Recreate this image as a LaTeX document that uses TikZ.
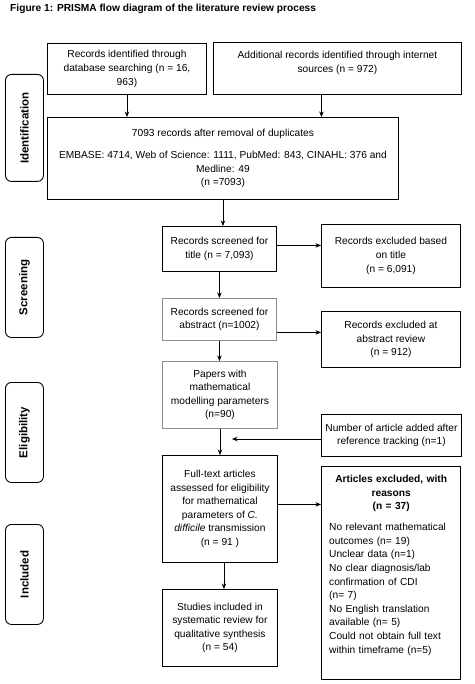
\documentclass[tikz,border=0pt]{standalone}
\usepackage{fontspec}
\setmainfont{Liberation Sans}
\usetikzlibrary{arrows.meta}
\begin{document}
\begin{tikzpicture}[x=1pt,y=-1pt,
  every node/.style={font=\fontsize{10.2}{13.6}\selectfont, inner sep=0pt},
  box/.style={draw=black, line width=0.9pt, align=center, anchor=north west},
  graybox/.style={box, draw=black!45},
  sidebox/.style={draw=black, line width=0.9pt, rounded corners=6pt, anchor=north west, minimum width=38pt},
  sidetext/.style={rotate=90, font=\fontsize{11.5}{13}\selectfont\bfseries},
  arr/.style={-{Stealth[length=5.5pt,width=4.5pt]}, line width=0.7pt}]
\useasboundingbox (0,0) rectangle (474,684);

\node[anchor=west, font=\fontsize{10.2}{12}\selectfont\bfseries] (title) at (10,9) {Figure 1: PRISMA flow diagram of the literature review process};

% side labels
\node[sidebox, minimum height=107pt] (s1) at (5,74) {};
\node[sidetext] (s1t) at (s1.center) {Identification};
\node[sidebox, minimum height=100pt] (s2) at (5,237) {};
\node[sidetext] (s2t) at (s2.center) {Screening};
\node[sidebox, minimum height=100pt] (s3) at (5,382) {};
\node[sidetext] (s3t) at (s3.center) {Eligibility};
\node[sidebox, minimum height=100pt] (s4) at (5,524) {};
\node[sidetext] (s4t) at (s4.center) {Included};

% boxes
\node[box, minimum width=159pt, minimum height=51pt] (A) at (47,43) {Records identified through\\ database searching (n = 16,\\ 963)};
\node[box, minimum width=248pt, minimum height=52pt] (B) at (213,42) {Additional records identified through internet\\ sources (n = 972)\\ \mbox{}};
\node[box, minimum width=351pt, minimum height=82pt] (C) at (47,117) {7093 records after removal of duplicates\\[8.4pt] EMBASE: 4714, Web of Science: 1111, PubMed: 843, CINAHL: 376 and\\ Medline: 49\\ (n =7093)};
\node[box, minimum width=114pt, minimum height=45pt] (D) at (162,226) {Records screened for\\ title (n = 7,093)};
\node[box, minimum width=139pt, minimum height=63pt] (E) at (321,224) {Records excluded based\\ on title\\ (n = 6,091)};
\node[graybox, minimum width=114pt, minimum height=42pt] (F) at (162,298) {Records screened for\\ abstract (n=1002)};
\node[box, minimum width=139pt, minimum height=56pt] (G) at (321,311) {Records excluded at\\ abstract review\\ (n = 912)};
\node[graybox, minimum width=115pt, minimum height=67pt] (H) at (162,361) {Papers with\\ mathematical\\ modelling parameters\\ (n=90)};
\node[box, minimum width=140pt, minimum height=42pt] (I) at (321,414) {Number of article added after\\ reference tracking (n=1)};
\node[box, minimum width=115pt, minimum height=107pt] (J) at (162,455) {Full-text articles\\ assessed for eligibility\\ for mathematical\\ parameters of \textit{C.}\\ \textit{difficile} transmission\\ (n = 91 )};
\node[box, minimum width=139pt, minimum height=213pt] (K) at (321,466) {};
\node[anchor=north west, text width=124pt] (Kt) at (329,475) {\centering\bfseries Articles excluded, with\\ reasons\\ (n = 37)\par
\vspace{7.4pt}\raggedright\mdseries No relevant mathematical\\ outcomes (n= 19)\\ Unclear data (n=1)\\ No clear diagnosis/lab\\ confirmation of CDI\\ (n= 7)\\ No English translation\\ available (n= 5)\\ Could not obtain full text\\ within timeframe (n=5)\par};
\node[box, minimum width=115pt, minimum height=77pt] (L) at (162,589) {Studies included in\\ systematic review for\\ qualitative synthesis\\ (n = 54)};

% connectors
\draw[arr] (A.south) -- (A.south |- C.north);
\draw[arr] ([xshift=-16pt]B.south) -- ([xshift=-16pt]B.south |- C.north);
\draw[arr] (C.south) -- (C.south |- D.north);
\draw[arr] ([yshift=3.5pt]D.east) -- ([yshift=3.5pt]D.east -| E.west);
\draw[arr] (D.south) -- (D.south |- F.north);
\draw[arr] ([yshift=-13pt]F.east) -- ([yshift=-13pt]F.east -| G.west);
\draw[arr] (F.south) -- (F.south |- H.north);
\draw[arr] (H.south) -- (H.south |- J.north);
\coordinate (ie) at (232,439);
\draw[arr] (I.west |- ie) -- (ie);
\draw[arr] ([yshift=4.5pt]J.east) -- ([yshift=4.5pt]J.east -| K.west);
\draw[arr] ([xshift=4pt]J.south) -- ([xshift=4pt]J.south |- L.north);
\end{tikzpicture}
\end{document}
